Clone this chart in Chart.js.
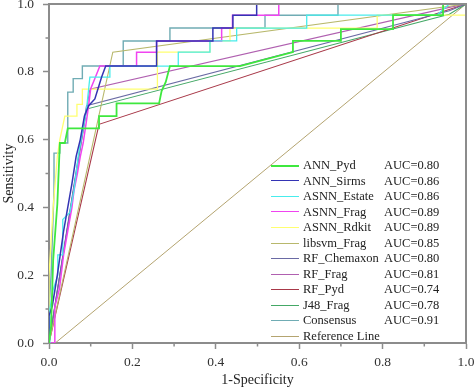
<!DOCTYPE html>
<html>
<head>
<meta charset="utf-8">
<script src="https://cdn.jsdelivr.net/npm/chart.js@4.4.0/dist/chart.umd.min.js"></script>
<style>
html, body { margin: 0; padding: 0; background: #fff; }
#wrap { position: relative; width: 474px; height: 389px; }
#legend { position: absolute; left: 271px; top: 158px; font-family: "Liberation Serif", "Times New Roman", serif; font-size: 12.5px; color: #222; }
.row { position: relative; height: 15.5px; line-height: 15.5px; white-space: nowrap; width: 190px; }
.sw { position: absolute; left: 0; width: 28px; }
.nm { position: absolute; left: 32px; }
.auc { position: absolute; left: 113px; }
</style>
</head>
<body>
<div id="wrap">
  <canvas id="roc" width="474" height="389"></canvas>
  <div id="legend"></div>
</div>
<script>
// ROC points as [1-specificity, sensitivity]
var annPyd = [[0,0],[0.005,0.05],[0.01,0.245],[0.02,0.41],[0.026,0.59],[0.038,0.59],[0.045,0.633],[0.12,0.633],[0.12,0.669],[0.162,0.669],[0.162,0.707],[0.264,0.707],[0.27,0.743],[0.28,0.77],[0.29,0.817],[0.458,0.817],[0.585,0.858],[0.585,0.891],[0.70,0.891],[0.70,0.926],[0.825,0.926],[0.825,0.967],[0.945,0.967],[0.945,1],[1,1]];
var annSirms = [[0,0],[0,0.08],[0.008,0.11],[0.02,0.2],[0.035,0.33],[0.045,0.4],[0.055,0.47],[0.065,0.55],[0.075,0.6],[0.085,0.67],[0.095,0.7],[0.11,0.72],[0.126,0.784],[0.136,0.817],[0.258,0.817],[0.258,0.891],[0.393,0.891],[0.393,0.929],[0.441,0.929],[0.441,0.967],[0.498,0.967],[0.498,1],[1,1]];
var asnnEstate = [[0,0],[0.002,0.1],[0.01,0.157],[0.021,0.2],[0.021,0.26],[0.033,0.26],[0.033,0.364],[0.05,0.385],[0.06,0.45],[0.07,0.55],[0.08,0.62],[0.09,0.69],[0.098,0.784],[0.146,0.784],[0.146,0.817],[0.31,0.817],[0.31,0.858],[0.386,0.858],[0.386,0.891],[0.45,0.891],[0.45,0.929],[0.618,0.929],[0.618,0.967],[0.93,0.967],[0.96,1],[1,1]];
var asnnFrag = [[0,0],[0.014,0],[0.014,0.107],[0.025,0.16],[0.035,0.26],[0.045,0.33],[0.055,0.4],[0.06,0.45],[0.068,0.5],[0.075,0.55],[0.082,0.59],[0.088,0.64],[0.095,0.7],[0.1,0.75],[0.11,0.78],[0.122,0.817],[0.21,0.817],[0.21,0.858],[0.258,0.858],[0.258,0.891],[0.414,0.891],[0.414,0.929],[0.44,0.929],[0.44,0.967],[0.551,0.967],[0.551,1],[1,1]];
var asnnRdkit = [[0,0],[0,0.2],[0.01,0.4],[0.02,0.55],[0.026,0.6],[0.038,0.669],[0.067,0.669],[0.067,0.704],[0.08,0.704],[0.08,0.749],[0.26,0.749],[0.26,0.858],[0.386,0.858],[0.386,0.891],[0.434,0.891],[0.434,0.929],[0.787,0.929],[0.787,0.967],[1,0.967],[1,1]];
var libsvmFrag = [[0,0],[0.153,0.858],[1,1]];
var rfChemaxon = [[0,0],[0.09,0.70],[0.96,0.98],[1,1]];
var rfFrag = [[0,0],[0.098,0.749],[0.96,0.99],[1,1]];
var rfPyd = [[0,0],[0.12,0.645],[1,1]];
var j48Frag = [[0,0],[0.09,0.69],[0.96,0.97],[1,1]];
var consensus = [[0,0],[0,0.1],[0.005,0.2],[0.012,0.45],[0.012,0.56],[0.026,0.56],[0.026,0.59],[0.045,0.59],[0.045,0.74],[0.058,0.74],[0.058,0.78],[0.08,0.78],[0.08,0.817],[0.178,0.817],[0.178,0.891],[0.29,0.891],[0.29,0.929],[0.518,0.929],[0.518,0.967],[0.693,0.967],[0.693,1],[1,1]];
var referenceLine = [[0.015,0],[1,1]];

var names = ["ANN_Pyd","ANN_Sirms","ASNN_Estate","ASNN_Frag","ASNN_Rdkit","libsvm_Frag","RF_Chemaxon","RF_Frag","RF_Pyd","J48_Frag","Consensus","Reference Line"];
var aucs = ["0.80","0.86","0.86","0.89","0.89","0.85","0.80","0.81","0.74","0.78","0.91",""];
var tickVals = [0, 0.2, 0.4, 0.6, 0.8, 1.0];

var series = [annPyd, annSirms, asnnEstate, asnnFrag, asnnRdkit, libsvmFrag, rfChemaxon, rfFrag, rfPyd, j48Frag, consensus, referenceLine];
var colors = ["#3ee83e","#3434b4","#48ecec","#f044f0","#ffff70","#b8b86c","#6a6aa4","#b060b0","#a83848","#44a866","#70acb4","#b4a470"];
var widths = [1.8, 1.5, 1.3, 1.5, 1.3, 1.1, 1.1, 1.1, 1.1, 1.1, 1.4, 1];

var serif = '"Liberation Serif", "Times New Roman", serif';
var axisGray = "#8c8c8c";

// legend: name + AUC column, drawn as html
var legendHtml = "";
for (let i = 0; i < names.length; i++) {
  var w = widths[i] + 0.4;
  legendHtml += "<div class='row'>"
    + "<div class='sw' style='top:" + (7.75 - w / 2) + "px;border-top:" + w + "px solid " + colors[i] + "'></div>"
    + "<span class='nm'>" + names[i] + "</span>"
    + (aucs[i] ? "<span class='auc'>AUC=" + aucs[i] + "</span>" : "")
    + "</div>";
}
document.getElementById("legend").innerHTML = legendHtml;

// top/right frame and short minor ticks
var framePlugin = {
  id: "frame",
  afterDraw: function(chart) {
    var c = chart.ctx, a = chart.chartArea;
    var xs = chart.scales.x, ys = chart.scales.y;
    c.save();
    c.strokeStyle = axisGray;
    c.lineWidth = 2;
    c.beginPath();
    c.moveTo(a.left, a.top); c.lineTo(a.right, a.top); c.lineTo(a.right, a.bottom);
    c.stroke();
    c.lineWidth = 1.5;
    c.beginPath();
    [0.1, 0.3, 0.5, 0.7, 0.9].forEach(function(v) {
      var px = xs.getPixelForValue(v);
      c.moveTo(px, a.bottom); c.lineTo(px, a.bottom + 3.5);
      var py = ys.getPixelForValue(v);
      c.moveTo(a.left, py); c.lineTo(a.left - 3.5, py);
    });
    c.stroke();
    c.restore();
  }
};

new Chart(document.getElementById("roc"), {
  type: "scatter",
  data: {
    datasets: series.map(function(pts, i) {
      return {
        label: names[i],
        data: pts.map(function(p) { return {x: p[0], y: p[1]}; }),
        showLine: true,
        borderColor: colors[i],
        borderWidth: widths[i],
        pointRadius: 0,
        fill: false,
        tension: 0
      };
    })
  },
  options: {
    responsive: false,
    animation: false,
    layout: { padding: { top: 4, right: 8, left: 0, bottom: 0 } },
    plugins: { legend: { display: false }, tooltip: { enabled: false } },
    scales: {
      x: {
        type: "linear", min: 0, max: 1,
        afterBuildTicks: function(s) { s.ticks = tickVals.map(function(v) { return {value: v}; }); },
        ticks: { callback: function(v) { return v.toFixed(1); }, font: { family: serif, size: 13.5 }, color: "#333", padding: 5, maxRotation: 0 },
        grid: { drawOnChartArea: false, drawTicks: true, tickLength: 6, tickColor: axisGray, tickWidth: 1.5 },
        border: { color: axisGray, width: 2 },
        title: { display: true, text: "1-Specificity", font: { family: serif, size: 14 }, color: "#222", padding: { top: 0, bottom: 0 } },
        afterFit: function(s) { s.height = 46; s.paddingLeft = 0; s.paddingRight = 0; }
      },
      y: {
        type: "linear", min: 0, max: 1,
        afterBuildTicks: function(s) { s.ticks = tickVals.map(function(v) { return {value: v}; }); },
        ticks: { callback: function(v) { return v.toFixed(1); }, font: { family: serif, size: 13.5 }, color: "#333", padding: 9 },
        grid: { drawOnChartArea: false, drawTicks: true, tickLength: 6, tickColor: axisGray, tickWidth: 1.5 },
        border: { color: axisGray, width: 2 },
        title: { display: true, text: "Sensitivity", font: { family: serif, size: 14 }, color: "#222", padding: { top: 1, bottom: 1 } },
        afterFit: function(s) { s.width = 49; s.paddingTop = 0; s.paddingBottom = 0; }
      }
    }
  },
  plugins: [framePlugin]
});
</script>
</body>
</html>
